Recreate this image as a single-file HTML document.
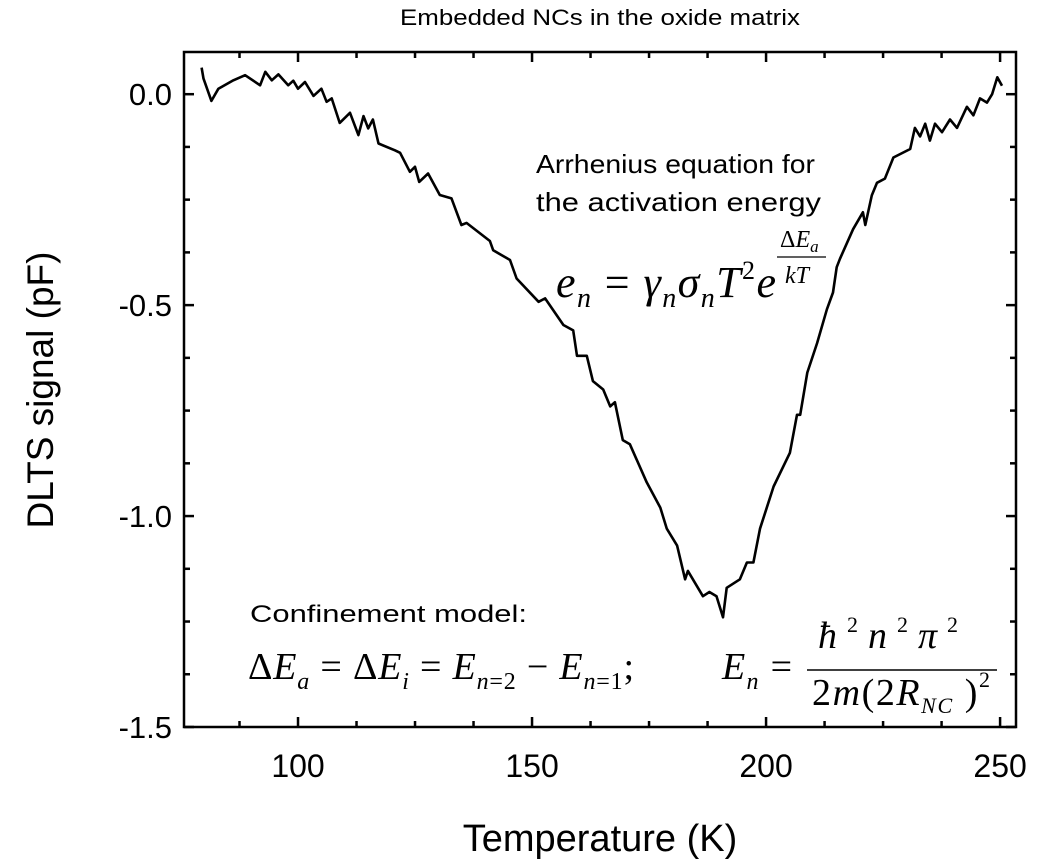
<!DOCTYPE html>
<html><head><meta charset="utf-8"><style>
body{margin:0;background:#fff;}
svg{display:block;font-family:"Liberation Sans",sans-serif;}
.m{font-family:"Liberation Serif",serif;font-style:italic;}
.r{font-family:"Liberation Serif",serif;font-style:normal;}
</style></head><body>
<svg id="chart" width="1039" height="863" viewBox="0 0 1039 863">
<text x="600" y="25" font-size="22" text-anchor="middle" textLength="400" lengthAdjust="spacingAndGlyphs">Embedded NCs in the oxide matrix</text>
<rect x="184" y="52" width="832" height="675" fill="none" stroke="#000" stroke-width="2.5"/>
<g id="ticks"></g>
<g id="labels"></g>
<path id="curve" fill="none" stroke="#000" stroke-width="2.6" stroke-linejoin="round"/>
<text x="600" y="851" font-size="38" text-anchor="middle">Temperature (K)</text>
<text transform="translate(53,390) rotate(-90)" font-size="37" text-anchor="middle">DLTS signal (pF)</text>
<g>
<text x="536" y="173" font-size="26" textLength="279" lengthAdjust="spacingAndGlyphs">Arrhenius equation for</text>
<text x="536" y="211" font-size="26" textLength="285" lengthAdjust="spacingAndGlyphs">the activation energy</text>
<text x="556" y="297" font-size="44" class="m" textLength="220" lengthAdjust="spacing">e<tspan font-size="28" dy="10">n</tspan><tspan dy="-10" class="r"> = </tspan>γ<tspan font-size="28" dy="10">n</tspan><tspan dy="-10">σ</tspan><tspan font-size="28" dy="10">n</tspan><tspan dy="-10">T</tspan><tspan font-size="26" dy="-18" class="r">2</tspan><tspan dy="18">e</tspan></text>
<text x="780" y="247" font-size="24" class="m"><tspan class="r">Δ</tspan>E<tspan font-size="17" dy="5">a</tspan></text>
<line x1="777" y1="257" x2="826" y2="257" stroke="#000" stroke-width="1.2"/>
<text x="785" y="283" font-size="24" class="m">kT</text>
</g>
<g>
<text x="250" y="622" font-size="24" textLength="277" lengthAdjust="spacingAndGlyphs">Confinement model:</text>
<text x="248" y="679" font-size="38" class="m" textLength="386" lengthAdjust="spacing"><tspan class="r">Δ</tspan>E<tspan font-size="24" dy="10">a</tspan><tspan dy="-10" class="r"> = Δ</tspan>E<tspan font-size="24" dy="10">i</tspan><tspan dy="-10" class="r"> = </tspan>E<tspan font-size="24" dy="10">n<tspan class="r">=2</tspan></tspan><tspan dy="-10" class="r"> − </tspan>E<tspan font-size="24" dy="10">n<tspan class="r">=1</tspan></tspan><tspan dy="-10" class="r">;</tspan></text>
<text x="722" y="679" font-size="38" class="m" textLength="70" lengthAdjust="spacing">E<tspan font-size="24" dy="10">n</tspan><tspan dy="-10" class="r"> =</tspan></text>
<text x="818" y="648" font-size="38" class="m" textLength="140" lengthAdjust="spacing">ħ<tspan font-size="22" dy="-16" class="r">2</tspan><tspan dy="16">n</tspan><tspan font-size="22" dy="-16" class="r">2</tspan><tspan dy="16">π</tspan><tspan font-size="22" dy="-16" class="r">2</tspan></text>
<line x1="807" y1="670" x2="997" y2="670" stroke="#000" stroke-width="1.5"/>
<text x="812" y="705" font-size="38" class="m" textLength="178" lengthAdjust="spacing"><tspan class="r">2</tspan>m<tspan class="r">(2</tspan>R<tspan font-size="22" dy="8">NC</tspan><tspan dy="-8" class="r"> )</tspan><tspan font-size="22" dy="-18" class="r">2</tspan></text>
</g>
</svg>
<script>
const temps=[79.4,79.8,81.5,83,86.2,88.7,91.9,93,94.4,95.8,97.9,99,100,101.5,103.3,105,106.1,107.2,108.9,111.1,112.9,114,115,116,117.2,120.7,121.8,123.9,125,125.9,127.8,130.3,132.8,134.9,136,141,141.7,145.3,146.7,151.4,152.8,156.7,158.8,159.6,161.7,163,165.2,166.7,167.7,169.4,170.9,174.5,177.4,178.8,181,182.7,183.3,186.5,187.9,189.4,190.8,191.6,194.4,195.9,197.3,198.7,201.6,205.1,206.6,207.3,208.8,210.9,213,214.3,215.1,215.8,218.6,220.7,221.2,222.6,223.7,225.4,227.2,230.8,231.8,232.9,234,235,236.1,237.6,239.3,240.8,242.9,244.3,245.7,247.2,248.3,249.4,250.4];
const signal=[0.063,0.037,-0.016,0.013,0.033,0.045,0.021,0.053,0.033,0.047,0.021,0.032,0.013,0.029,-0.004,0.013,-0.018,-0.01,-0.068,-0.044,-0.097,-0.052,-0.081,-0.06,-0.117,-0.133,-0.139,-0.184,-0.172,-0.208,-0.188,-0.239,-0.247,-0.31,-0.305,-0.348,-0.37,-0.393,-0.437,-0.492,-0.484,-0.547,-0.56,-0.62,-0.62,-0.68,-0.70,-0.74,-0.73,-0.82,-0.83,-0.92,-0.98,-1.03,-1.07,-1.15,-1.13,-1.19,-1.18,-1.19,-1.24,-1.17,-1.15,-1.11,-1.11,-1.03,-0.93,-0.85,-0.76,-0.76,-0.66,-0.59,-0.51,-0.47,-0.41,-0.39,-0.32,-0.28,-0.31,-0.24,-0.21,-0.20,-0.15,-0.13,-0.08,-0.10,-0.07,-0.11,-0.07,-0.09,-0.06,-0.08,-0.03,-0.05,-0.01,-0.02,0.0,0.04,0.02];
const xTicks=[100,150,200,250];
const yTicks=[0.0,-0.5,-1.0,-1.5];
const yTickLabels=["0.0","-0.5","-1.0","-1.5"];
const X0=184,X1=1016,Y0=52,Y1=727;
const xMin=75.64,xMax=253.4,yMin=-1.5,yMax=0.1;
const sx=v=>X0+(v-xMin)/(xMax-xMin)*(X1-X0);
const sy=v=>Y1-(v-yMin)/(yMax-yMin)*(Y1-Y0);
const NS="http://www.w3.org/2000/svg";
const tg=document.getElementById('ticks'),lg=document.getElementById('labels');
function ln(x1,y1,x2,y2){const l=document.createElementNS(NS,'line');l.setAttribute('x1',x1);l.setAttribute('y1',y1);l.setAttribute('x2',x2);l.setAttribute('y2',y2);l.setAttribute('stroke','#000');l.setAttribute('stroke-width','2.5');


tg.appendChild(l);}
for(let v=87.5;v<=xMax;v+=12.5){const x=sx(v);const major=Math.abs(v%50)<1e-6;const L=major?10:6;ln(x,Y1,x,Y1-L);ln(x,Y0,x,Y0+L);}
for(let v=-1.5;v<=yMax+1e-9;v+=0.125){const y=sy(v);const major=Math.abs((v*2)-Math.round(v*2))<1e-6;const L=major?10:6;ln(X0,y,X0+L,y);ln(X1,y,X1-L,y);}
xTicks.forEach(v=>{const t=document.createElementNS(NS,'text');t.setAttribute('x',sx(v));t.setAttribute('y',Y1+50);t.setAttribute('font-size','32');t.setAttribute('text-anchor','middle');t.textContent=String(v);


lg.appendChild(t);});
yTicks.forEach((v,i)=>{const t=document.createElementNS(NS,'text');t.setAttribute('x',X0-12);t.setAttribute('y',sy(v)+11);t.setAttribute('font-size','31');t.setAttribute('text-anchor','end');t.textContent=yTickLabels[i];


lg.appendChild(t);});
document.getElementById('curve').setAttribute('d',temps.map((t,i)=>(i?'L':'M')+sx(t).toFixed(1)+' '+sy(signal[i]).toFixed(1)).join(' '));
</script>
</body></html>
